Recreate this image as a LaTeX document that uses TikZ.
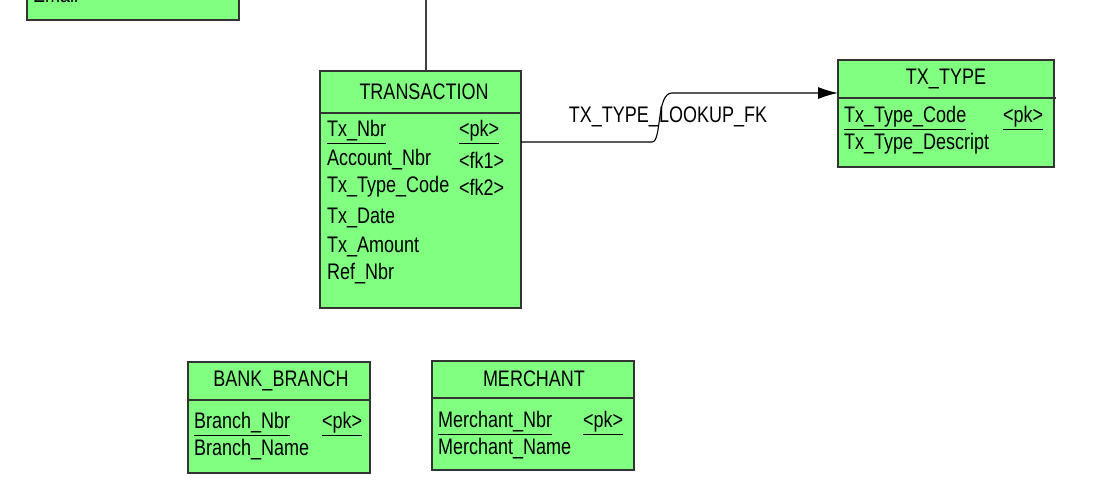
\documentclass[tikz,border=0pt]{standalone}
\usepackage{fontspec}
\setmainfont{Liberation Sans}[FakeStretch=0.8]
\usetikzlibrary{arrows.meta}
\definecolor{ent}{HTML}{80FF80}
\tikzset{
  ent/.style={draw=black!80, fill=ent, line width=1.2pt},
  txt/.style={anchor=west, inner sep=0pt, font=\fontsize{22.5}{24}\selectfont},
  ttl/.style={inner sep=0pt, font=\fontsize{22.5}{24}\selectfont},
}
\newcommand{\ul}[1]{\underline{#1}}
\begin{document}
\begin{tikzpicture}[x=1pt,y=-1pt]
\useasboundingbox (0,0) rectangle (1096,485);
\begin{scope}
\clip (0,0) rectangle (1096,485);
\draw[ent] (27,-40) rectangle (239,20);
\node[txt] (em) at (33,-6) {Email};
\end{scope}
% TRANSACTION
\draw[line width=1.2pt, black!75] (426,0) coordinate (top) -- (426,71);
\draw[ent] (320,71) rectangle (521,308);
\draw[line width=1.2pt, black!80] (320,113) -- (522,113);
\node[ttl] (tr) at (424,92) {TRANSACTION};
\node[txt] (r1) at (327,132) {\ul{Tx\_Nbr}};
\node[txt] (k1) at (459,132) {\ul{<pk>}};
\node[txt] (r2) at (327,160) {Account\_Nbr};
\node[txt] (k2) at (459,160) {<fk1>};
\node[txt] (r3) at (327,187) {Tx\_Type\_Code};
\node[txt] (k3) at (459,187) {<fk2>};
\node[txt] (r4) at (327,218) {Tx\_Date};
\node[txt] (r5) at (327,247) {Tx\_Amount};
\node[txt] (r6) at (327,274) {Ref\_Nbr};
% TX_TYPE
\draw[ent] (838,60) rectangle (1054,167);
\draw[line width=1.2pt, black!80] (838,98) -- (1056,98);
\node[ttl] (tt) at (946,79) {TX\_TYPE};
\node[txt] (t1) at (844,118) {\ul{Tx\_Type\_Code}};
\node[txt] (tk1) at (1003,118) {\ul{<pk>}};
\node[txt] (t2) at (844,144) {Tx\_Type\_Descript};
% connector
\coordinate (s) at (521,142);
\coordinate (e) at (838,93);
\draw[line width=1.1pt, -{Latex[length=20pt,width=12pt]}] (s) -- (652,142)
  .. controls (662,142) and (656,93) .. (672,93) -- (e);
\node[ttl, fill=none] (lbl) at (668,117) {TX\_TYPE\_LOOKUP\_FK};
% BANK_BRANCH
\draw[ent] (188,362) rectangle (370,473);
\draw[line width=1.2pt, black!80] (188,400) -- (371,400);
\node[ttl] (bb) at (281,381) {BANK\_BRANCH};
\node[txt] (b1) at (194,424) {\ul{Branch\_Nbr}};
\node[txt] (bk1) at (322,424) {\ul{<pk>}};
\node[txt] (b2) at (194,450) {Branch\_Name};
% MERCHANT
\draw[ent] (432,361) rectangle (634,470);
\draw[line width=1.2pt, black!80] (432,398) -- (635,398);
\node[ttl] (mm) at (534,379) {MERCHANT};
\node[txt] (m1) at (438,423) {\ul{Merchant\_Nbr}};
\node[txt] (mk1) at (583,423) {\ul{<pk>}};
\node[txt] (m2) at (438,449) {Merchant\_Name};
\end{tikzpicture}
\end{document}
